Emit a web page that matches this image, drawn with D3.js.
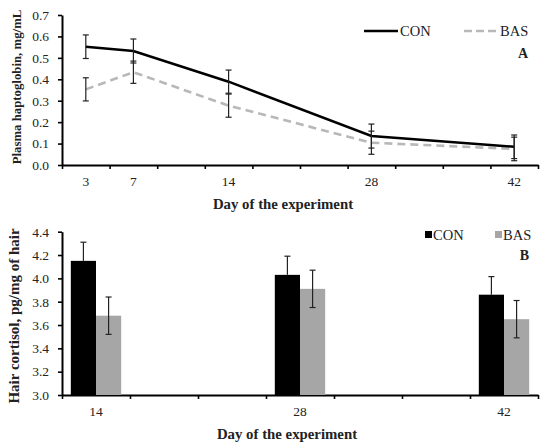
<!DOCTYPE html>
<html>
<head>
<meta charset="utf-8">
<script src="https://cdn.jsdelivr.net/npm/d3@7"></script>
<style>
  body { margin: 0; background: #fff; }
  svg { font-family: "Liberation Serif", "Times New Roman", serif; }
</style>
</head>
<body>
<svg></svg>
<script>
const size = {w: 550, h: 448};
const svg = d3.select('svg').attr('width', size.w).attr('height', size.h);

// ---- panel A: plasma haptoglobin (line chart, Excel-style category axis) ----
const dayCatsA = ['3', '7', '', '14', '', '', '28', '', '', '42'];
const hpDays = ['3', '7', '14', '28', '42'];
const hpCON = [0.552, 0.532, 0.389, 0.135, 0.085];
const hpBAS = [0.353, 0.433, 0.277, 0.104, 0.075];
const hpCONerr = [0.055, 0.056, 0.054, 0.056, 0.055];
const hpBASerr = [0.054, 0.052, 0.054, 0.054, 0.055];
const hpTicks = [0, 0.1, 0.2, 0.3, 0.4, 0.5, 0.6, 0.7];

// ---- panel B: hair cortisol (clustered bars) ----
const dayCatsB = ['14', '', '', '28', '', '', '42'];
const cortDays = ['14', '28', '42'];
const cortCON = [4.15, 4.03, 3.86];
const cortBAS = [3.68, 3.91, 3.65];
const cortCONerr = [0.16, 0.16, 0.155];
const cortBASerr = [0.16, 0.16, 0.16];
const cortTicks = [3.0, 3.2, 3.4, 3.6, 3.8, 4.0, 4.2, 4.4];

const seriesNames = ['CON', 'BAS'];
const colors = {CON: '#000000', BAS: '#b8b8b8', barBAS: '#a6a6a6'};

const plotA = {l: 62, r: 538, t: 15, b: 165};
const plotB = {l: 62, r: 538, t: 231.7, b: 395};

// draws axis lines, tick marks between categories and the labels
function drawAxes(g, plot, cats, yScale, yTicks, yTitle, yt, xt) {
    const xBand = d3.scaleBand().domain(d3.range(cats.length)).range([plot.l, plot.r]);
    const xEdges = d3.scaleLinear().domain([0, cats.length]).range([plot.l, plot.r]);

    // y axis
    const yAxis = g.append('g')
        .attr('transform', `translate(${plot.l},0)`)
        .call(d3.axisLeft(yScale).tickValues(yTicks)
            .tickFormat(d3.format('.1f')).tickSize(4).tickSizeOuter(0).tickPadding(9));
    yAxis.select('.domain').attr('stroke-width', 2);
    yAxis.selectAll('.tick line').attr('stroke-width', 1.6);
    yAxis.selectAll('text').attr('font-size', 13.5).attr('fill', '#222')
        .attr('font-family', '"Liberation Serif", serif');

    // x tick marks on category boundaries
    const xMarks = g.append('g')
        .attr('transform', `translate(0,${plot.b})`)
        .call(d3.axisBottom(xEdges).tickValues(d3.range(cats.length + 1))
            .tickFormat('').tickSize(4).tickSizeOuter(0));
    xMarks.select('.domain').attr('stroke-width', 2);
    xMarks.selectAll('.tick line').attr('stroke-width', 1.6);

    // x labels centred in categories
    const xLabels = g.append('g')
        .attr('transform', `translate(0,${plot.b})`)
        .call(d3.axisBottom(xBand).tickFormat(i => cats[i]).tickSize(0).tickPadding(11));
    xLabels.select('.domain').remove();
    xLabels.selectAll('text').attr('font-size', 13.5).attr('fill', '#222')
        .attr('font-family', '"Liberation Serif", serif');

    g.append('text')
        .attr('transform', `translate(${yt.x},${yt.y}) rotate(-90)`)
        .attr('text-anchor', 'middle')
        .attr('dy', '0.35em')
        .attr('font-weight', 'bold')
        .attr('font-size', yt.size)
        .attr('fill', '#222')
        .text(yTitle);

    g.append('text')
        .attr('x', xt.x).attr('y', xt.y)
        .attr('text-anchor', 'middle')
        .attr('font-weight', 'bold')
        .attr('font-size', 14.8)
        .attr('fill', '#222')
        .text('Day of the experiment');

    return xBand;
}

// ===================== PANEL A =====================
const gA = svg.append('g').classed('panelA', true);
const yA = d3.scaleLinear().domain([0, 0.7]).range([plotA.b, plotA.t]);
const xBandA = drawAxes(gA, plotA, dayCatsA, yA, hpTicks,
    'Plasma haptoglobin, mg/mL', {x: 17, y: 87, size: 12.8}, {x: 283, y: 209});
const xA = d => xBandA(dayCatsA.indexOf(d)) + xBandA.bandwidth() / 2;

const hpSeries = [
    {name: 'CON', vals: hpCON, err: hpCONerr},
    {name: 'BAS', vals: hpBAS, err: hpBASerr}
];

const line = d3.line()
    .x((v, i) => xA(hpDays[i]))
    .y(v => yA(v));

gA.selectAll('path.series')
    .data(hpSeries.slice().reverse())
    .join('path')
    .classed('series', true)
    .attr('d', d => line(d.vals))
    .attr('fill', 'none')
    .attr('stroke', d => colors[d.name])
    .attr('stroke-width', 2.6)
    .attr('stroke-dasharray', d => d.name === 'BAS' ? '8,5' : null);

// error bars
hpSeries.forEach(s => {
    const eg = gA.append('g').classed('err', true);
    s.vals.forEach((v, i) => {
        const cx = xA(hpDays[i]);
        const y1 = yA(v + s.err[i]), y2 = yA(v - s.err[i]);
        eg.append('line').attr('x1', cx).attr('x2', cx).attr('y1', y1).attr('y2', y2);
        eg.append('line').attr('x1', cx - 3).attr('x2', cx + 3).attr('y1', y1).attr('y2', y1);
        eg.append('line').attr('x1', cx - 3).attr('x2', cx + 3).attr('y1', y2).attr('y2', y2);
    });
    eg.selectAll('line').attr('stroke', '#222').attr('stroke-width', 1.2);
});

// legend A
const legA = gA.append('g').classed('legend', true);
seriesNames.forEach((name, i) => {
    const lx = 364 + i * 100;
    legA.append('line')
        .attr('x1', lx).attr('x2', lx + 34).attr('y1', 31).attr('y2', 31)
        .attr('stroke', colors[name]).attr('stroke-width', 2.6)
        .attr('stroke-dasharray', name === 'BAS' ? '8,4' : null);
    legA.append('text')
        .attr('x', lx + 36).attr('y', 36)
        .attr('font-size', 14.5).attr('fill', '#222')
        .text(name);
});
gA.append('text').attr('x', 528).attr('y', 58).attr('text-anchor', 'end')
    .attr('font-weight', 'bold').attr('font-size', 14).attr('fill', '#222').text('A');

// ===================== PANEL B =====================
const gB = svg.append('g').classed('panelB', true);
const yB = d3.scaleLinear().domain([3.0, 4.4]).range([plotB.b, plotB.t]);
const xBandB = drawAxes(gB, plotB, dayCatsB, yB, cortTicks,
    'Hair cortisol, pg/mg of hair', {x: 14, y: 316, size: 15}, {x: 287, y: 439});

const xInner = d3.scaleBand().domain(seriesNames)
    .range([0, xBandB.bandwidth()]).paddingInner(0).paddingOuter(0.35);

const barRows = cortDays.map((d, i) => ({
    day: d,
    vals: [
        {name: 'CON', v: cortCON[i], e: cortCONerr[i]},
        {name: 'BAS', v: cortBAS[i], e: cortBASerr[i]}
    ]
}));

const groups = gB.selectAll('g.day')
    .data(barRows)
    .join('g')
    .classed('day', true)
    .attr('transform', d => `translate(${xBandB(dayCatsB.indexOf(d.day))},0)`);

groups.selectAll('rect')
    .data(d => d.vals)
    .join('rect')
    .attr('x', d => xInner(d.name))
    .attr('width', xInner.bandwidth())
    .attr('y', d => yB(d.v))
    .attr('height', d => yB(3.0) - yB(d.v))
    .attr('fill', d => d.name === 'CON' ? colors.CON : colors.barBAS);

groups.selectAll('g.eb')
    .data(d => d.vals)
    .join('g')
    .classed('eb', true)
    .each(function(d) {
        const cx = xInner(d.name) + xInner.bandwidth() / 2;
        const y1 = yB(d.v + d.e), y2 = yB(d.v - d.e);
        const eg = d3.select(this);
        // CON bar hides its lower half, only the upper whisker shows
        eg.append('line').attr('x1', cx).attr('x2', cx).attr('y1', y1)
            .attr('y2', d.name === 'CON' ? yB(d.v) : y2);
        eg.append('line').attr('x1', cx - 3).attr('x2', cx + 3).attr('y1', y1).attr('y2', y1);
        if (d.name !== 'CON') {
            eg.append('line').attr('x1', cx - 3).attr('x2', cx + 3).attr('y1', y2).attr('y2', y2);
        }
        eg.selectAll('line').attr('stroke', '#222').attr('stroke-width', 1.2);
    });

// legend B
const legB = gB.append('g').classed('legend', true);
seriesNames.forEach((name, i) => {
    const lx = 425 + i * 70;
    legB.append('rect')
        .attr('x', lx).attr('y', 231).attr('width', 7).attr('height', 7)
        .attr('fill', name === 'CON' ? colors.CON : colors.barBAS);
    legB.append('text')
        .attr('x', lx + 8).attr('y', 239.5)
        .attr('font-size', 14.5).attr('fill', '#222')
        .text(name);
});
gB.append('text').attr('x', 529).attr('y', 260).attr('text-anchor', 'end')
    .attr('font-weight', 'bold').attr('font-size', 14).attr('fill', '#222').text('B');
</script>
</body>
</html>
